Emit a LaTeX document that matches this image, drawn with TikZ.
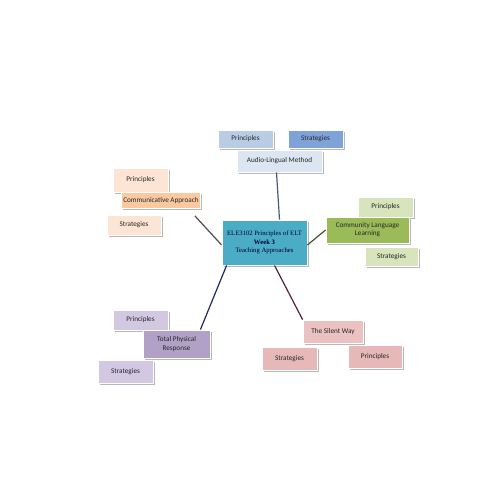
\documentclass[tikz,border=0pt]{standalone}
\usepackage{fontspec}
\setmainfont{Carlito}
\newfontfamily\serifcenter{Liberation Serif}
\usetikzlibrary{shadows}
\definecolor{almP}{HTML}{B8CCE4}
\definecolor{almS}{HTML}{7FA3D9}
\definecolor{almM}{HTML}{DCE6F2}
\definecolor{caM}{HTML}{FAC9A0}
\definecolor{caL}{HTML}{FDE5D5}
\definecolor{cllM}{HTML}{9BBB59}
\definecolor{cllL}{HTML}{D7E4BC}
\definecolor{tprM}{HTML}{B2A1C7}
\definecolor{tprL}{HTML}{D3C8E2}
\definecolor{swM}{HTML}{EBC2C1}
\definecolor{swL}{HTML}{E6B9B8}
\definecolor{ctr}{HTML}{4BACC6}
\definecolor{lnAlm}{HTML}{4A5A70}
\definecolor{lnCa}{HTML}{5A4A40}
\definecolor{lnCll}{HTML}{4A5030}
\definecolor{lnTpr}{HTML}{1F2A60}
\definecolor{lnSw}{HTML}{5A2030}
\tikzset{
  box/.style={draw=white, line width=0.8pt, inner sep=1pt, align=center,
    font=\fontsize{7.2}{8.2}\selectfont, text=black!85,
    drop shadow={shadow xshift=1.5pt, shadow yshift=-1.5pt, opacity=0.5, fill=black!55}},
  link/.style={line width=1.2pt}
}
\begin{document}
\begin{tikzpicture}[x=1pt,y=-1pt]
\useasboundingbox[fill=white] (0,0) rectangle (495,495);
% center
\node[box, fill=ctr, minimum width=85pt, minimum height=45pt, text=black!80!blue,
  font=\serifcenter\fontsize{6.7}{8.2}\selectfont] (center) at (264.5,242.5)
  {ELE3102 Principles of ELT\\\textbf{Week 3}\\Teaching Approaches};
% Audio-lingual
\node[box, fill=almP, minimum width=55pt, minimum height=18pt] (almp) at (245.5,139) {Principles};
\node[box, fill=almS, minimum width=55pt, minimum height=18pt] (alms) at (315.5,139) {Strategies};
\node[box, fill=almM, minimum width=85pt, minimum height=22pt] (alm) at (279.5,161) {Audio-Lingual Method};
% Communicative
\node[box, fill=caL, minimum width=55pt, minimum height=24pt] (cap) at (140.5,180) {Principles};
\node[box, fill=caL, minimum width=54pt, minimum height=20pt] (cas) at (134,225) {Strategies};
\node[box, fill=caM, minimum width=79pt, minimum height=16pt] (ca) at (161,200.5) {Communicative Approach};
% CLL
\node[box, fill=cllL, minimum width=55pt, minimum height=20pt] (cllp) at (385.5,207) {Principles};
\node[box, fill=cllL, minimum width=53pt, minimum height=19pt] (clls) at (391.5,256.5) {Strategies};
\node[box, fill=cllM, minimum width=83pt, minimum height=26pt] (cll) at (367.5,230) {Community Language\\Learning};
% TPR
\node[box, fill=tprL, minimum width=55pt, minimum height=20pt] (tprp) at (140.5,320) {Principles};
\node[box, fill=tprL, minimum width=55pt, minimum height=23pt] (tprs) at (125.5,371.5) {Strategies};
\node[box, fill=tprM, minimum width=67pt, minimum height=28pt] (tpr) at (176.5,344) {Total Physical\\Response};
% Silent Way
\node[box, fill=swM, minimum width=60pt, minimum height=23pt] (sw) at (333,331.5) {The Silent Way};
\node[box, fill=swL, minimum width=55pt, minimum height=23pt] (sws) at (289.5,358.5) {Strategies};
\node[box, fill=swL, minimum width=54pt, minimum height=23pt] (swp) at (375,356.5) {Principles};
% links
\draw[link, draw=lnAlm] ([xshift=-3pt]alm.south) -- ([xshift=15pt]center.north);
\draw[link, draw=lnCa] ([xshift=-6pt,yshift=-7pt]ca.south east) -- ([yshift=-2.5pt]center.west);
\draw[link, draw=lnCll] ([yshift=-2.5pt]center.east) -- (cll.west);
\draw[link, draw=lnTpr] ([xshift=5pt]center.south west) -- ([xshift=-10pt]tpr.north east);
\draw[link, draw=lnSw] ([xshift=10pt]center.south) -- (sw.north west);
\end{tikzpicture}
\end{document}
